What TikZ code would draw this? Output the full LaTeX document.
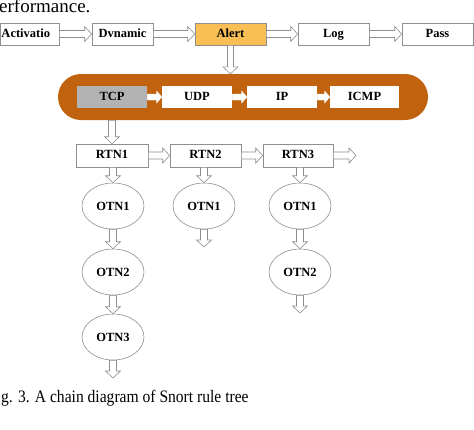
\documentclass[tikz,border=0pt]{standalone}
\usepackage{fontspec}
\usepackage{graphicx}
\setmainfont{Liberation Serif}
\usetikzlibrary{calc,shapes.geometric}
\definecolor{pillc}{HTML}{C0620E}
\definecolor{alertc}{HTML}{F9BF55}
\definecolor{tcpc}{HTML}{B3B3B3}
\definecolor{edgec}{HTML}{8E8E8E}
\tikzset{
  box/.style={draw=edgec, fill=white, minimum height=22pt, inner sep=0pt,
    text height=8.5pt, text depth=2.5pt,
    font=\bfseries\fontsize{12.5}{14}\selectfont, line width=0.6pt},
  oval/.style={ellipse, draw=edgec, fill=white, minimum width=62pt, minimum height=46pt,
    inner sep=0pt, font=\bfseries\fontsize{12.5}{14}\selectfont, line width=0.6pt},
  pill/.style={fill=pillc, rounded corners=23pt, minimum width=370pt, minimum height=46pt, inner sep=0pt},
  barrow/.style={draw=edgec, fill=white, line width=0.6pt, line join=miter},
  warrow/.style={draw=white, fill=white, line width=0.4pt},
  txt/.style={inner sep=0pt, anchor=base west, font=\fontsize{19}{22}\selectfont},
  captxt/.style={inner sep=0pt, anchor=base west, font=\fontsize{17.5}{20}\selectfont}
}
% horizontal block arrow: #1 style, #2 from, #3 to, #4 shaft half, #5 head half, #6 head length
\newcommand\hblock[6]{%
  \path[#1] let \p1=(#2), \p2=(#3) in
    (\x1,\y1+#4) -- (\x2-#6,\y1+#4) -- (\x2-#6,\y1+#5) -- (\x2,\y1)
    -- (\x2-#6,\y1-#5) -- (\x2-#6,\y1-#4) -- (\x1,\y1-#4) -- cycle;}
% vertical (downward) block arrow
\newcommand\vblock[6]{%
  \path[#1] let \p1=(#2), \p2=(#3) in
    (\x1-#4,\y1) -- (\x1-#4,\y2+#6) -- (\x1-#5,\y2+#6) -- (\x1,\y2)
    -- (\x1+#5,\y2+#6) -- (\x1+#4,\y2+#6) -- (\x1+#4,\y1) -- cycle;}
\begin{document}
\begin{tikzpicture}[x=1pt,y=-1pt]
\useasboundingbox (0,0) rectangle (474,429);

% top text and caption
\node[txt] (perf) at (-1,12) {erformance.};
\node[captxt] (cap) at (1,402) {\scalebox{0.89}[1]{g. 3. A chain diagram of Snort rule tree}};

% top row
\node[box, inner xsep=1.5pt, text width=56pt, align=flush left] (act) at (29.5,34) {Activatio};
\node[box, minimum width=61pt] (dyn) at (122.5,34) {Dvnamic};
\node[box, minimum width=71pt, fill=alertc] (alert) at (230.5,34) {Alert};
\node[box, minimum width=71pt] (log) at (333.5,34) {Log};
\node[box, minimum width=71pt] (pass) at (437.5,34) {Pass};

% protocol pill
\node[pill] (pill) at (243,97) {};
\node[box, draw=none, minimum width=70pt, fill=tcpc] (tcp) at (112,97) {TCP};
\node[box, draw=none, minimum width=70pt] (udp) at (197,97) {UDP};
\node[box, draw=none, minimum width=70pt] (ip) at (282,97) {IP};
\node[box, draw=none, minimum width=69pt] (icmp) at (364.5,97) {ICMP};

% RTN row
\node[box, minimum width=72pt, minimum height=23pt] (rtn1) at (112,155.5) {RTN1};
\node[box, minimum width=71pt, minimum height=23pt] (rtn2) at (205.5,155.5) {RTN2};
\node[box, minimum width=70pt, minimum height=23pt] (rtn3) at (298,155.5) {RTN3};
\coordinate (rend) at (356,155.5);

% OTN nodes
\node[oval] (o11) at (113,206) {OTN1};
\node[oval] (o12) at (113,272) {OTN2};
\node[oval] (o13) at (113,337) {OTN3};
\node[oval] (o21) at (204,206) {OTN1};
\node[oval] (o31) at (300,206) {OTN1};
\node[oval] (o32) at (300,272) {OTN2};
\coordinate (e13) at (113,378);
\coordinate (e21) at (204,247);
\coordinate (e32) at (300,313);

% top row arrows
\hblock{barrow}{act.east}{dyn.west}{3.5pt}{7.5pt}{7pt}
\hblock{barrow}{dyn.east}{alert.west}{3.5pt}{7.5pt}{7pt}
\hblock{barrow}{alert.east}{log.west}{3.5pt}{7.5pt}{7pt}
\hblock{barrow}{log.east}{pass.west}{3.5pt}{7.5pt}{7pt}
\vblock{barrow}{alert.south}{alert.south |- pill.north}{3pt}{7.5pt}{7pt}

% pill arrows
\hblock{warrow}{tcp.east}{udp.west}{3pt}{6pt}{5pt}
\hblock{warrow}{udp.east}{ip.west}{3pt}{6pt}{5pt}
\hblock{warrow}{ip.east}{icmp.west}{3pt}{6pt}{5pt}
\vblock{barrow}{tcp.south |- pill.south}{tcp.south |- rtn1.north}{3.5pt}{7.5pt}{7pt}

% RTN arrows
\hblock{barrow}{rtn1.east}{rtn2.west}{3.5pt}{7.5pt}{7pt}
\hblock{barrow}{rtn2.east}{rtn3.west}{3.5pt}{7.5pt}{7pt}
\hblock{barrow}{rtn3.east}{rend}{3.5pt}{7.5pt}{7pt}

% vertical arrows
\vblock{barrow}{o11.north |- rtn1.south}{o11.north}{3.5pt}{7.5pt}{7pt}
\vblock{barrow}{o21.north |- rtn2.south}{o21.north}{3.5pt}{7.5pt}{7pt}
\vblock{barrow}{o31.north |- rtn3.south}{o31.north}{3.5pt}{7.5pt}{7pt}
\vblock{barrow}{o11.south}{o12.north}{3.5pt}{7.5pt}{7pt}
\vblock{barrow}{o12.south}{o13.north}{3.5pt}{7.5pt}{7pt}
\vblock{barrow}{o13.south}{e13}{3.5pt}{7.5pt}{7pt}
\vblock{barrow}{o21.south}{e21}{3.5pt}{7.5pt}{7pt}
\vblock{barrow}{o31.south}{o32.north}{3.5pt}{7.5pt}{7pt}
\vblock{barrow}{o32.south}{e32}{3.5pt}{7.5pt}{7pt}
\end{tikzpicture}
\end{document}
